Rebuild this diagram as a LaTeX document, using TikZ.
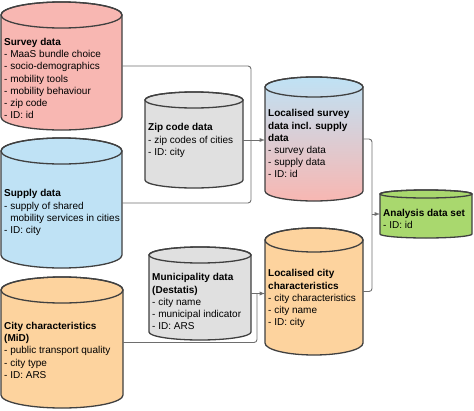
\documentclass[tikz,border=0pt]{standalone}
\usepackage{fontspec}
\setmainfont{Liberation Sans}
\usepackage{xcolor}
\definecolor{surveyred}{RGB}{248,183,178}
\definecolor{supplyblue}{RGB}{191,226,245}
\definecolor{cityorange}{RGB}{253,211,158}
\definecolor{datagrey}{RGB}{224,224,224}
\definecolor{setgreen}{RGB}{169,216,110}
\definecolor{rimgrey}{RGB}{64,64,64}
\definecolor{wiregrey}{RGB}{110,110,110}

\tikzset{
  drum/.style={draw=rimgrey,line width=1.3pt},
  hull/.style={rectangle,inner sep=0pt,outer sep=0pt},
  txt/.style={anchor=north west,inner sep=0pt,align=left,font=\fontsize{10}{12.2}\selectfont},
  wire/.style={draw=wiregrey,line width=0.9pt,rounded corners=3pt}
}

% name, fill, left, top, right, bottom, lid radius
\newcommand{\datadrum}[7]{%
  \pgfmathsetmacro{\drumrx}{(#5-#3)/2}%
  \pgfmathsetmacro{\drumcx}{(#5+#3)/2}%
  \path[drum,#2] (#3,#4+#7) -- (#3,#6-#7)
    arc[start angle=180,end angle=360,x radius=\drumrx pt,y radius=#7pt]
    -- (#5,#4+#7)
    arc[start angle=0,end angle=180,x radius=\drumrx pt,y radius=#7pt] -- cycle;
  \draw[drum] (\drumcx,#4+#7) ellipse[x radius=\drumrx pt,y radius=#7pt];
  \node[hull,minimum width={(#5-#3)*1pt},minimum height={(#6-#4)*1pt}] (#1) at (\drumcx,{(#4+#6)/2}) {};
}

\begin{document}
\begin{tikzpicture}[x=1pt,y=-1pt]
\useasboundingbox (0,0) rectangle (474,410);

\datadrum{survey}{fill=surveyred}{1}{2}{122}{130}{13}
\datadrum{supply}{fill=supplyblue}{1}{138}{122}{268}{13}
\datadrum{citychar}{fill=cityorange}{1}{277}{123}{408}{13}
\datadrum{zip}{fill=datagrey}{145}{92}{243}{188}{8}
\datadrum{munic}{fill=datagrey}{149}{247}{251}{340}{8}
\datadrum{locsurvey}{top color=supplyblue,bottom color=surveyred}{265}{77}{363}{201}{10}
\datadrum{loccity}{fill=cityorange}{265}{228}{363}{355}{12}
\datadrum{analysis}{fill=setgreen}{380}{190}{472}{238}{4}

\node[txt] (surveytxt) at (4,38) {\textbf{Survey data}\\- MaaS bundle choice\\- socio-demographics\\- mobility tools\\- mobility behaviour\\- zip code\\- ID: id};
\node[txt] (supplytxt) at (4,189.5) {\textbf{Supply data}\\- supply of shared\\\phantom{-}~mobility services in cities\\- ID: city};
\node[txt] (citychartxt) at (4,322) {\textbf{City characteristics}\\\textbf{(MiD)}\\- public transport quality\\- city type\\- ID: ARS};
\node[txt] (ziptxt) at (148,123.5) {\textbf{Zip code data}\\- zip codes of cities\\- ID: city};
\node[txt] (munictxt) at (152,273.5) {\textbf{Municipality data}\\\textbf{(Destatis)}\\- city name\\- municipal indicator\\- ID: ARS};
\node[txt] (locsurveytxt) at (268,109.5) {\textbf{Localised survey}\\\textbf{data incl. supply}\\\textbf{data}\\- survey data\\- supply data\\- ID: id};
\node[txt] (loccitytxt) at (268,269.5) {\textbf{Localised city}\\\textbf{characteristics}\\- city characteristics\\- city name\\- ID: city};
\node[txt] (analysistxt) at (383,209) {\textbf{Analysis data set}\\- ID: id};

\coordinate (j1) at (251,140);
\coordinate (j2) at (257,293.5);
\coordinate (j3) at (372,214);

\draw[wire] (survey.east) -| (j1);
\draw[wire] (supply.east) -| (j1);
\draw[wire,-latex] (zip.east) -- (zip.east -| locsurvey.west);
\draw[wire] (citychar.east) -| (j2);
\draw[wire,-latex] (munic.east) -- (munic.east -| loccity.west);
\draw[wire] (locsurvey.east) -| (j3);
\draw[wire] (loccity.east) -| (j3);
\draw[wire,-latex] (j3) -- (j3 -| analysis.west);

\end{tikzpicture}
\end{document}
